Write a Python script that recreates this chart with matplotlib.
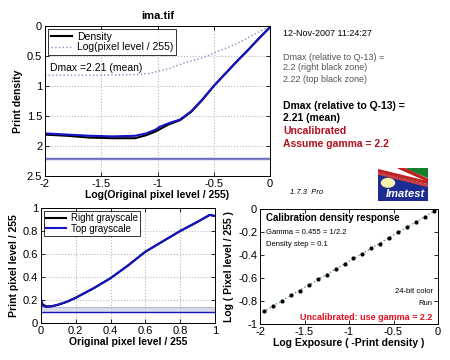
import numpy as np
import matplotlib
matplotlib.use("Agg")
import matplotlib.pyplot as plt
from matplotlib.patches import Polygon, Circle, Rectangle

plt.rcParams['font.family'] = ['Liberation Sans', 'DejaVu Sans']
plt.rcParams['font.size'] = 8

# ---- top plot: density vs log pixel level
dens_x = [-2.0, -1.8, -1.6, -1.4, -1.2, -1.1, -1.02, -0.98, -0.9, -0.8, -0.7, -0.6, -0.5, -0.4, -0.3, -0.2, -0.1, 0.0]
dens_blue = [1.79, 1.81, 1.83, 1.84, 1.83, 1.79, 1.73, 1.68, 1.62, 1.56, 1.42, 1.22, 1.00, 0.80, 0.60, 0.41, 0.21, 0.02]
dens_black = [1.81, 1.83, 1.86, 1.87, 1.87, 1.82, 1.76, 1.72, 1.64, 1.57, 1.43, 1.23, 1.00, 0.80, 0.60, 0.41, 0.21, 0.02]
logpix_x = [-2.0, -1.5, -1.2, -1.07, -0.9, -0.77, -0.6, -0.47, -0.3, -0.18, -0.08, 0.0]
logpix_y = [0.82, 0.82, 0.81, 0.79, 0.71, 0.62, 0.53, 0.43, 0.30, 0.18, 0.08, 0.01]
dmax_right = 2.2
dmax_top = 2.22

# ---- bottom left: print pixel level vs original pixel level
lin_x = [0.0, 0.01, 0.03, 0.06, 0.1, 0.15, 0.2, 0.3, 0.4, 0.5, 0.6, 0.7, 0.8, 0.9, 0.97, 1.0]
lin_right = [0.19, 0.16, 0.145, 0.145, 0.16, 0.185, 0.22, 0.30, 0.39, 0.50, 0.62, 0.71, 0.80, 0.88, 0.94, 0.93]
lin_top = [0.21, 0.15, 0.14, 0.145, 0.16, 0.185, 0.22, 0.30, 0.39, 0.50, 0.62, 0.71, 0.80, 0.88, 0.94, 0.93]
black_level = 0.10
band_top = 0.135

# ---- bottom right: calibration response
cal_x = [-1.95, -1.85, -1.75, -1.65, -1.55, -1.45, -1.35, -1.25, -1.15, -1.05,
         -0.95, -0.85, -0.75, -0.65, -0.55, -0.45, -0.35, -0.25, -0.15, -0.05]
cal_y = [-0.89, -0.84, -0.80, -0.75, -0.71, -0.66, -0.61, -0.57, -0.52, -0.48,
         -0.43, -0.39, -0.34, -0.30, -0.25, -0.20, -0.16, -0.11, -0.07, -0.02]
fit_x = [-2.0, 0.0]
fit_y = [-0.91, 0.0]

W, H = 450, 360
fig = plt.figure(figsize=(4.5, 3.6), dpi=100)


def ax_px(l, t, r, b):
    return fig.add_axes([l / W, 1 - b / H, (r - l) / W, (b - t) / H])


def ftxt(x, y, s, **kw):
    fig.text(x / W, 1 - y / H, s, va='center', **kw)


def matlab_style(ax, grid=True):
    ax.tick_params(direction='in', top=True, right=True, length=3, width=0.6, labelsize=8, pad=2)
    for sp in ax.spines.values():
        sp.set_linewidth(0.7)
    if grid:
        ax.grid(True, linestyle=':', color='#b8b8b8', linewidth=0.8)


# top plot
ax1 = ax_px(45, 26, 270, 176)
ax1.plot(dens_x, dens_black, color='black', lw=1.5, label='Density')
ax1.plot(logpix_x, logpix_y, color='#8888cc', lw=1, linestyle=':', label='Log(pixel level / 255)')
ax1.plot(dens_x, dens_blue, color='#1414c8', lw=1.5)
ax1.axhline(dmax_right, color='#6868c0', lw=1)
ax1.axhline(dmax_top, color='#8080c8', lw=1)
ax1.set_xlim(-2, 0)
ax1.set_ylim(2.5, 0)
ax1.set_xticks([-2, -1.5, -1, -0.5, 0])
ax1.set_xticklabels(['-2', '-1.5', '-1', '-0.5', '0'])
ax1.set_yticks([0, 0.5, 1, 1.5, 2, 2.5])
ax1.set_yticklabels(['0', '0.5', '1', '1.5', '2', '2.5'])
matlab_style(ax1)
ax1.set_title('ima.tif', fontsize=8, fontweight='bold', pad=5)
ax1.set_xlabel('Log(Original pixel level / 255)', fontsize=7.5, fontweight='bold', labelpad=1)
ax1.set_ylabel('Print density', fontsize=7.5, fontweight='bold', labelpad=3)
leg = ax1.legend(loc='upper left', fontsize=7.5, frameon=True, fancybox=False,
                 borderpad=0.25, labelspacing=0.05, handlelength=2.0, handletextpad=0.5,
                 borderaxespad=0.3)
leg.get_frame().set_edgecolor('black')
leg.get_frame().set_linewidth(0.7)
ax1.text(-1.96, 0.7, 'Dmax =2.21 (mean)', fontsize=7.5, va='center')

# right-hand notes
ftxt(283, 33, '12-Nov-2007 11:24:27', fontsize=6.5)
ftxt(283, 57, 'Dmax (relative to Q-13) =', fontsize=6.5, color='#555555')
ftxt(283, 68, '2.2 (right black zone)', fontsize=6.5, color='#555555')
ftxt(283, 80, '2.22 (top black zone)', fontsize=6.5, color='#555555')
ftxt(283, 106, 'Dmax (relative to Q-13) =', fontsize=7.5, fontweight='bold')
ftxt(283, 118, '2.21 (mean)', fontsize=7.5, fontweight='bold')
ftxt(283, 131, 'Uncalibrated', fontsize=7.5, fontweight='bold', color='#b01020')
ftxt(283, 144, 'Assume gamma = 2.2', fontsize=7.5, fontweight='bold', color='#b01020')
ftxt(290, 193, '1.7.3  Pro', fontsize=5.5, style='italic')

# logo
lg = ax_px(378, 168, 428, 201)
lg.set_xlim(0, 1)
lg.set_ylim(0, 1)
lg.axis('off')
lg.add_patch(Rectangle((0, 0), 1, 1, color='#1c2c90'))
lg.add_patch(Polygon([(0, 1), (0.55, 1), (1, 0.72), (1, 0.52), (0, 0.92)], color='white'))
lg.add_patch(Polygon([(0.55, 1), (1, 1), (1, 0.72)], color='#108030'))
lg.add_patch(Polygon([(0.4, 1), (0.5, 1), (1, 0.66), (1, 0.6)], color='#c02020'))
lg.add_patch(Polygon([(0, 0.95), (1, 0.58), (1, 0.53), (0, 0.90)], color='#c02020'))
lg.add_patch(Polygon([(0, 0.86), (1, 0.47), (1, 0.44), (0, 0.82)], color='#d04040'))
lg.add_patch(Circle((0.2, 0.55), 0.13, transform=lg.transData, color='#f8f0b0'))
lg.text(0.55, 0.2, 'Imatest', color='white', fontsize=8, fontweight='bold',
        style='italic', ha='center', va='center')

# bottom left
ax2 = ax_px(41, 208, 215, 323)
ax2.axhspan(black_level, band_top, color='#d8dce8', lw=0)
ax2.axhline(band_top, color='#b8bcc8', lw=0.8)
ax2.plot(lin_x, lin_right, color='black', lw=1.5, label='Right grayscale')
ax2.plot(lin_x, lin_top, color='#1414c8', lw=1.5, label='Top grayscale')
ax2.axhline(black_level, color='#1414c8', lw=1)
ax2.set_xlim(0, 1)
ax2.set_ylim(0, 1)
ax2.set_xticks([0, 0.2, 0.4, 0.6, 0.8, 1])
ax2.set_xticklabels(['0', '0.2', '0.4', '0.6', '0.8', '1'])
ax2.set_yticks([0, 0.2, 0.4, 0.6, 0.8, 1])
ax2.set_yticklabels(['0', '0.2', '0.4', '0.6', '0.8', '1'])
matlab_style(ax2)
ax2.set_xlabel('Original pixel level / 255', fontsize=7.5, fontweight='bold', labelpad=1)
ax2.set_ylabel('Print pixel level / 255', fontsize=7.5, fontweight='bold', labelpad=3)
leg2 = ax2.legend(loc='upper left', fontsize=7, frameon=True, fancybox=False,
                  borderpad=0.25, labelspacing=0.05, handlelength=2.0, handletextpad=0.5,
                  borderaxespad=0.3)
leg2.get_frame().set_edgecolor('black')
leg2.get_frame().set_linewidth(0.7)

# bottom right
ax3 = ax_px(260, 209, 438, 324)
ax3.plot(fit_x, fit_y, color='#60a060', lw=1, linestyle=':')
ax3.plot(cal_x, cal_y, 'o', color='black', markersize=2)
ax3.set_xlim(-2, 0)
ax3.set_ylim(-1, 0)
ax3.set_xticks([-2, -1.5, -1, -0.5, 0])
ax3.set_xticklabels(['-2', '-1.5', '-1', '-0.5', '0'])
ax3.set_yticks([-1, -0.8, -0.6, -0.4, -0.2, 0])
ax3.set_yticklabels(['-1', '-0.8', '-0.6', '-0.4', '-0.2', '0'])
matlab_style(ax3, grid=False)
ax3.set_xlabel('Log Exposure ( -Print density )', fontsize=7.5, fontweight='bold', labelpad=1)
ax3.set_ylabel('Log ( Pixel level / 255 )', fontsize=7.5, fontweight='bold', labelpad=3)
ax3.text(0.035, 0.92, 'Calibration density response', transform=ax3.transAxes,
         fontsize=7, fontweight='bold', va='center')
ax3.text(0.035, 0.80, 'Gamma = 0.455 = 1/2.2', transform=ax3.transAxes, fontsize=5.5, va='center')
ax3.text(0.035, 0.69, 'Density step = 0.1', transform=ax3.transAxes, fontsize=5.5, va='center')
ax3.text(0.97, 0.28, '24-bit color', transform=ax3.transAxes, fontsize=5.5, ha='right', va='center')
ax3.text(0.97, 0.18, 'Run', transform=ax3.transAxes, fontsize=5.5, ha='right', va='center')
ax3.text(0.97, 0.06, 'Uncalibrated: use gamma = 2.2', transform=ax3.transAxes, fontsize=6.5,
         fontweight='bold', color='#e01020', ha='right', va='center')

fig.savefig('out.png', dpi=100)
